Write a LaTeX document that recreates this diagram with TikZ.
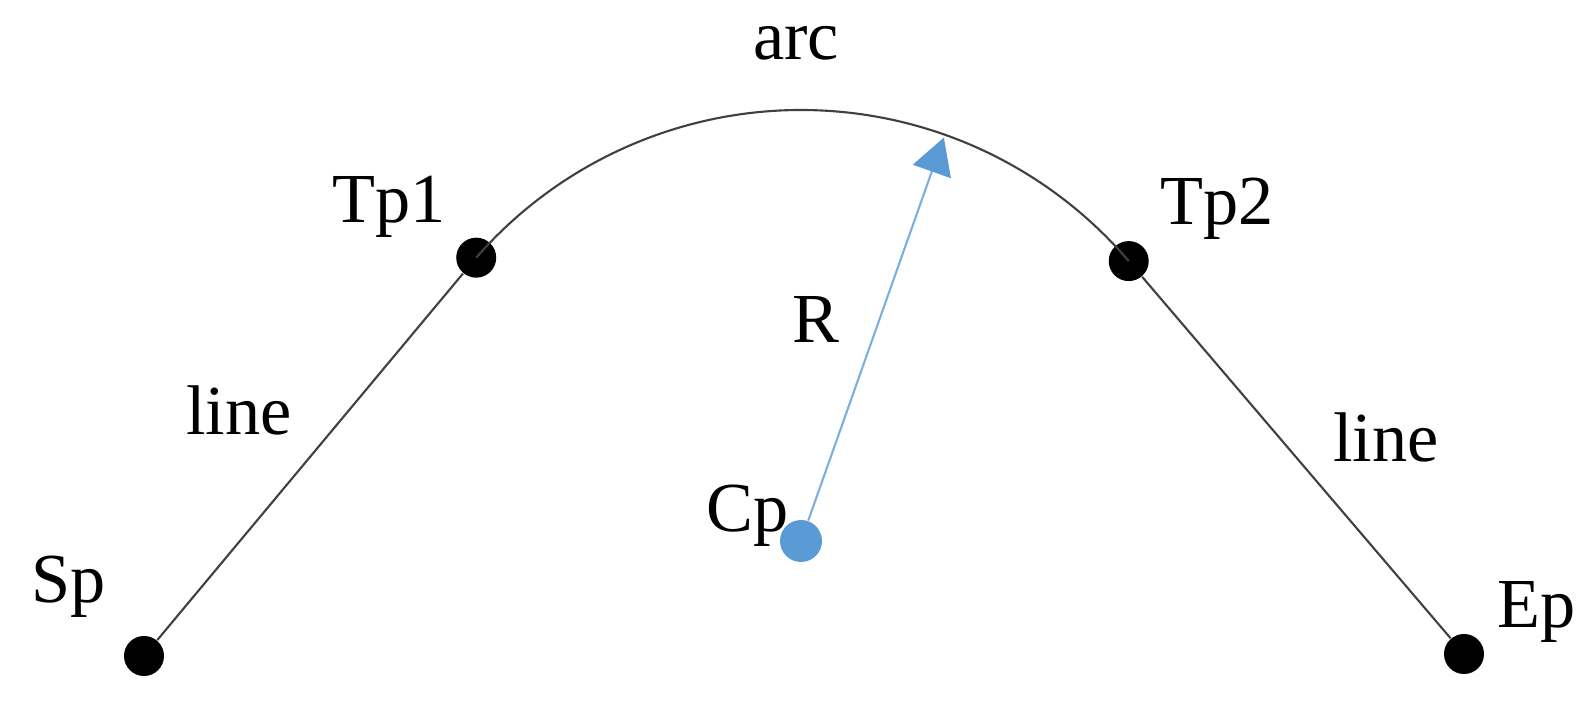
\documentclass[tikz,border=0pt]{standalone}
\usepackage{fontspec}
\setmainfont{Liberation Serif}
\usepackage{xcolor}
\usetikzlibrary{arrows.meta}
\usetikzlibrary{calc}
\definecolor{radblue}{RGB}{91,155,213}

\begin{document}
\begin{tikzpicture}[pnt/.style={fill=black,circle,inner sep=0pt,minimum size=0.40cm},
    lbl/.style={anchor=base,inner sep=0pt,font=\fontsize{20}{24}\selectfont},
    path/.style={black!75,line width=0.6pt}]

    \useasboundingbox (0,0) rectangle (15.96,7.02);

    %===========================
    % Points
    %===========================
    \node (Cp) at (8.01,1.61) [fill=radblue,circle,inner sep=0pt,minimum size=0.42cm]{};
    \node (Tp1) at ($(Cp)+(138.9:4.31)$) [pnt]{};
    \node (Tp2) at ($(Cp)+(40.5:4.31)$) [pnt]{};
    \node (Sp) at (1.44,0.46) [pnt]{};
    \node (Ep) at (14.64,0.48) [pnt]{};
    \coordinate (Rtip) at ($(Cp)+(70.5:4.28)$);

    %===========================
    % Path
    %===========================
    \draw[path] (Sp) -- (Tp1);
    \draw[path] (Tp1.center) arc[start angle=138.9,end angle=40.5,radius=4.31];
    \draw[path] (Tp2) -- (Ep);

    % Radius
    \draw[radblue!80,line width=0.6pt,-{Triangle[length=3.6mm,width=4mm,color=radblue]}] (Cp) -- (Rtip);

    %===========================
    % Labels
    %===========================
    \node (arcL) at (7.96,6.42) [lbl]{arc};
    \node (Tp1L) at (3.89,4.79) [lbl]{Tp1};
    \node (Tp2L) at (12.17,4.77) [lbl]{Tp2};
    \node (lineL) at (2.39,2.67) [lbl]{line};
    \node (lineR) at (13.86,2.40) [lbl]{line};
    \node (SpL) at (0.69,0.99) [lbl]{Sp};
    \node (EpL) at (15.37,0.74) [lbl]{Ep};
    \node (CpL) at (7.48,1.70) [lbl]{Cp};
    \node (RL) at (8.16,3.59) [lbl]{R};
\end{tikzpicture}
\end{document}
